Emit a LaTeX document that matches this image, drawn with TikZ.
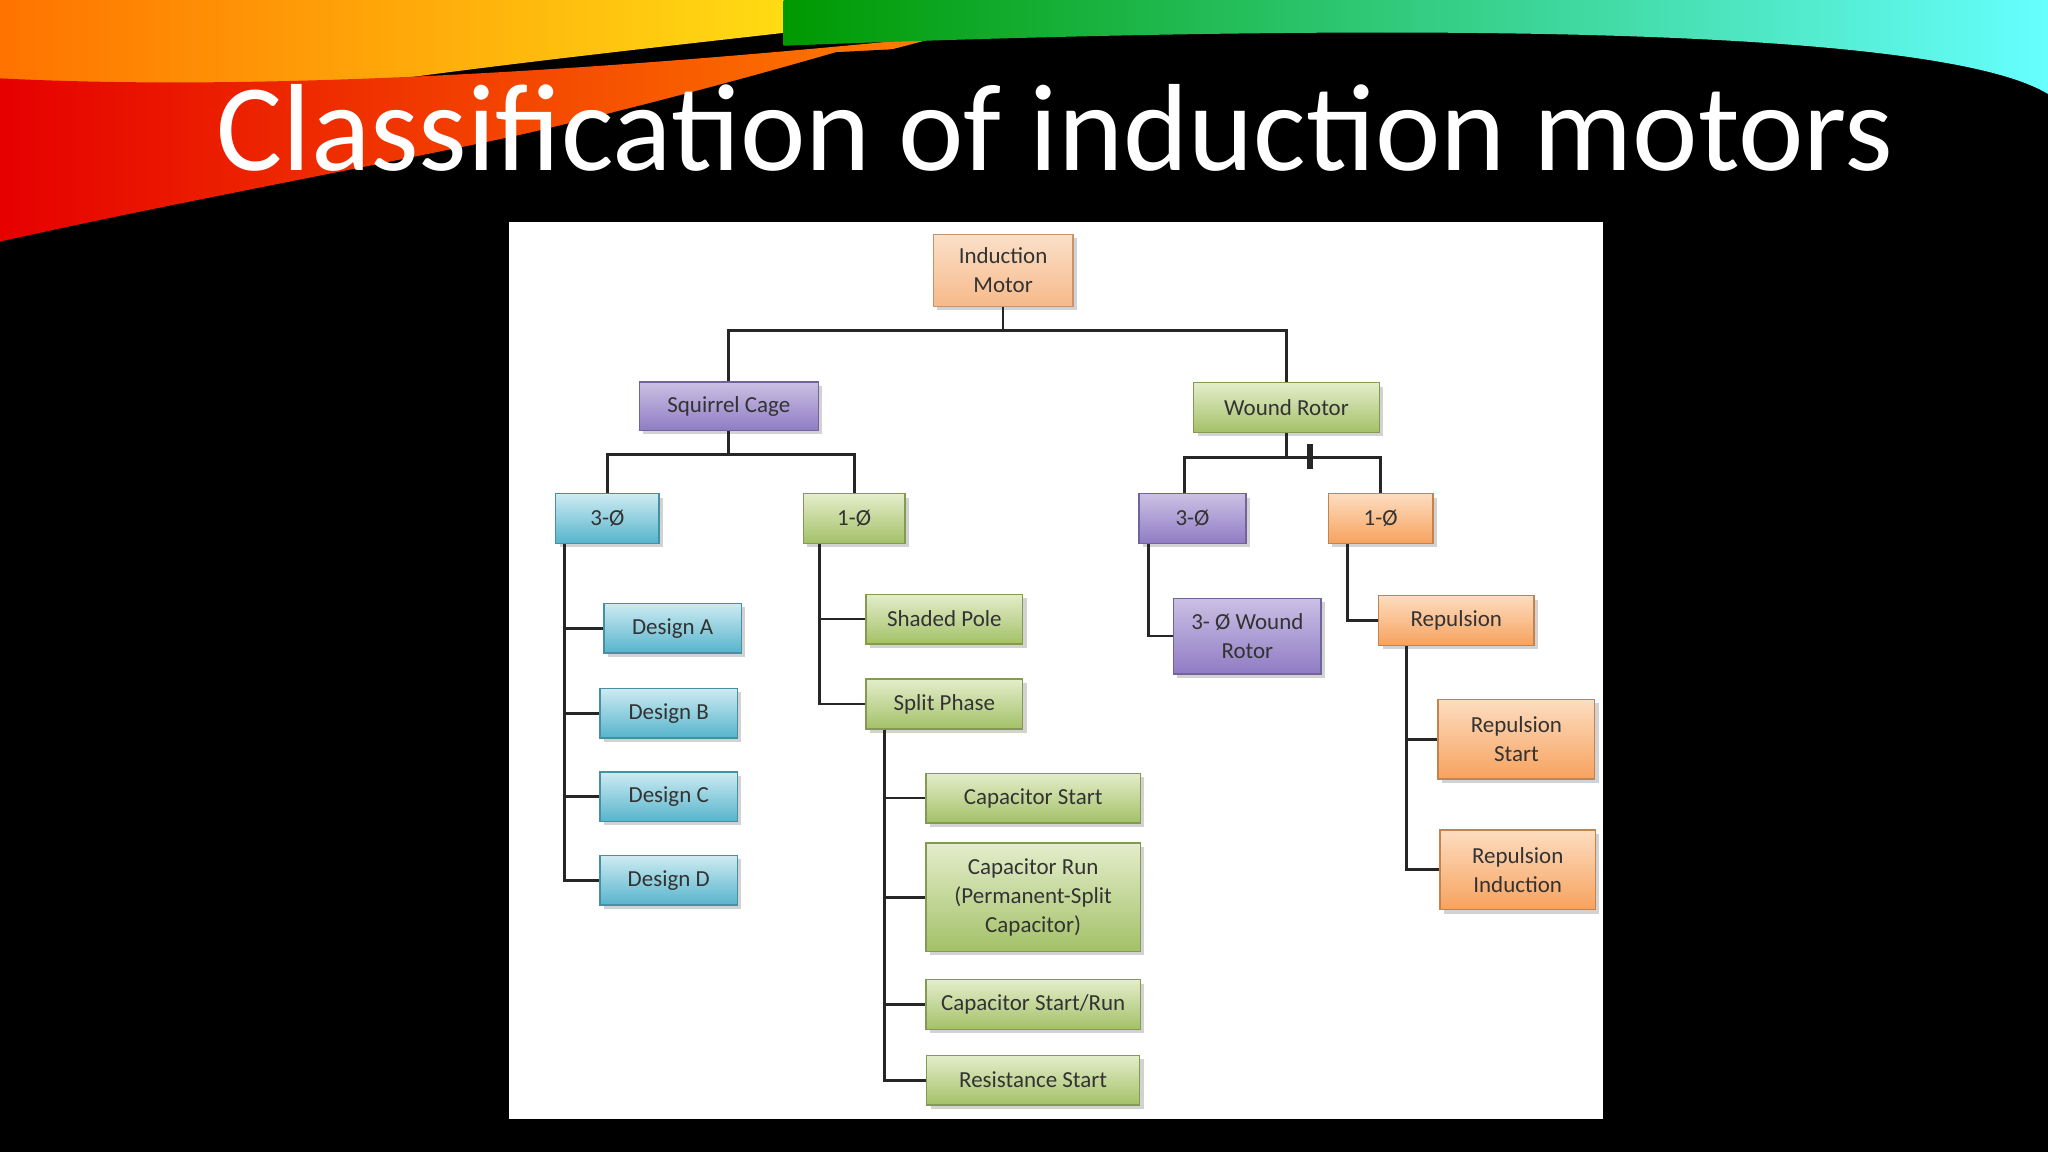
\documentclass[tikz,border=0pt]{standalone}
\usepackage{fontspec}
\setmainfont{Carlito}
\usetikzlibrary{shadows,calc}
\definecolor{pkT}{HTML}{FBE0C8}\definecolor{pkB}{HTML}{F6B98A}
\definecolor{puT}{HTML}{CBC0E4}\definecolor{puB}{HTML}{8F7CC4}
\definecolor{grT}{HTML}{E4EDCB}\definecolor{grB}{HTML}{A3C167}
\definecolor{cyT}{HTML}{CDEBF2}\definecolor{cyB}{HTML}{56B4CC}
\definecolor{orT}{HTML}{FDDDC0}\definecolor{orB}{HTML}{F7A25E}
\tikzset{
 box/.style={draw=#1B!80!black, line width=0.3pt, top color=#1T, bottom color=#1B,
   font=\fontsize{5}{6.3}\selectfont, text=black!80, align=center, inner sep=0pt,
   drop shadow={shadow xshift=0.03cm, shadow yshift=-0.03cm, opacity=0.35}},
 wire/.style={line width=0.6pt, black!85}
}
\newcommand{\bx}[7]{\node[box=#1, minimum width=#4*0.01cm, minimum height=#5*0.01cm] (#2) at (#6,#7) {#3};}
\begin{document}
\begin{tikzpicture}[x=0.01cm,y=-0.01cm]
\fill[black] (0,0) rectangle (1568,882);
\useasboundingbox (0,0) rectangle (1568,882);
% swooshes
\shade[left color=orange!90!red, right color=yellow!90!white] (0,0) -- (800,0) .. controls (600,30) and (300,50) .. (0,110) -- cycle;
\shade[left color=red!90!black, right color=orange] (0,60) .. controls (200,70) and (450,55) .. (720,28) .. controls (450,100) and (200,140) .. (0,185) -- cycle;
\shade[left color=green!60!black, right color=cyan!60!white] (600,0) -- (1568,0) -- (1568,72) .. controls (1500,30) and (1200,12) .. (600,35) -- cycle;
\fill[black] (640,40) .. controls (1100,15) and (1450,30) .. (1530,68) -- (1568,72) -- (1568,882) -- (0,882) -- (0,185) .. controls (250,140) and (450,95) .. (640,40) -- cycle;
\node[text=white, font=\fontsize{27}{30}\selectfont] (title) at (808,98) {Classification of induction motors};
% panel
\fill[white] (390,170) rectangle (1227,857);
% boxes
\bx{pk}{im}{Induction\\Motor}{107}{55}{768}{207}
\bx{pu}{sc}{Squirrel Cage}{137}{37}{558}{311}
\bx{gr}{wr}{Wound Rotor}{142}{38}{985}{312}
\bx{cy}{la}{3-Ø}{79}{38}{465}{397}
\bx{gr}{lb}{1-Ø}{78}{38}{654}{397}
\bx{pu}{ra}{3-Ø}{82}{38}{913}{397}
\bx{or}{rb}{1-Ø}{80}{38}{1057}{397}
\bx{cy}{da}{Design A}{105}{38}{515}{481}
\bx{cy}{db}{Design B}{105}{38}{512}{546}
\bx{cy}{dc}{Design C}{105}{38}{512}{610}
\bx{cy}{dd}{Design D}{105}{38}{512}{674}
\bx{gr}{sp}{Shaded Pole}{120}{38}{723}{474}
\bx{gr}{ph}{Split Phase}{120}{38}{723}{539}
\bx{pu}{wr3}{3- Ø Wound\\Rotor}{113}{58}{955}{487}
\bx{or}{rp}{Repulsion}{119}{38}{1115}{475}
\bx{or}{rs}{Repulsion\\Start}{120}{61}{1161}{566}
\bx{or}{ri}{Repulsion\\Induction}{119}{61}{1162}{666}
\bx{gr}{c1}{Capacitor Start}{164}{38}{791}{611}
\bx{gr}{c2}{Capacitor Run\\(Permanent-Split\\Capacitor)}{164}{83}{791}{687}
\bx{gr}{c3}{Capacitor Start/Run}{164}{38}{791}{769}
\bx{gr}{c4}{Resistance Start}{163}{38}{791}{827}
% connectors
\coordinate (j1) at (757,253);
\coordinate (j2) at (555,348);
\coordinate (j3) at (985,350);
\draw[wire] (im.south) -- (im.south |- j1);
\draw[wire] (sc.north) -- (sc.north |- j1) -- (wr.north |- j1) -- (wr.north);
\draw[wire] (sc.south) -- (sc.south |- j2);
\draw[wire] (la.north) -- (la.north |- j2) -- (lb.north |- j2) -- (lb.north);
\draw[wire] (wr.south) -- (wr.south |- j3);
\draw[wire] ([xshift=-0.06cm]ra.north) -- ([xshift=-0.06cm]ra.north |- j3) -- (rb.north |- j3) -- (rb.north);
\draw[wire, line width=1.2pt] (1003,340) -- (1003,359);
\foreach \t in {da,db,dc} \draw[wire] ([xshift=0.07cm]la.south west) |- (\t.west);
\draw[wire] ([xshift=0.07cm]la.south west) |- (dd.west);
\draw[wire] ([xshift=0.13cm]lb.south west) |- (sp.west);
\draw[wire] ([xshift=0.13cm]lb.south west) |- (ph.west);
\foreach \t in {c1,c2,c3,c4} \draw[wire] ([xshift=0.15cm]ph.south west) |- (\t.west);
\draw[wire] ([xshift=0.08cm]ra.south west) |- (wr3.west);
\draw[wire] ([xshift=0.15cm]rb.south west) |- (rp.west);
\draw[wire] ([xshift=0.22cm]rp.south west) |- (rs.west);
\draw[wire] ([xshift=0.22cm]rp.south west) |- (ri.west);
\end{tikzpicture}
\end{document}
